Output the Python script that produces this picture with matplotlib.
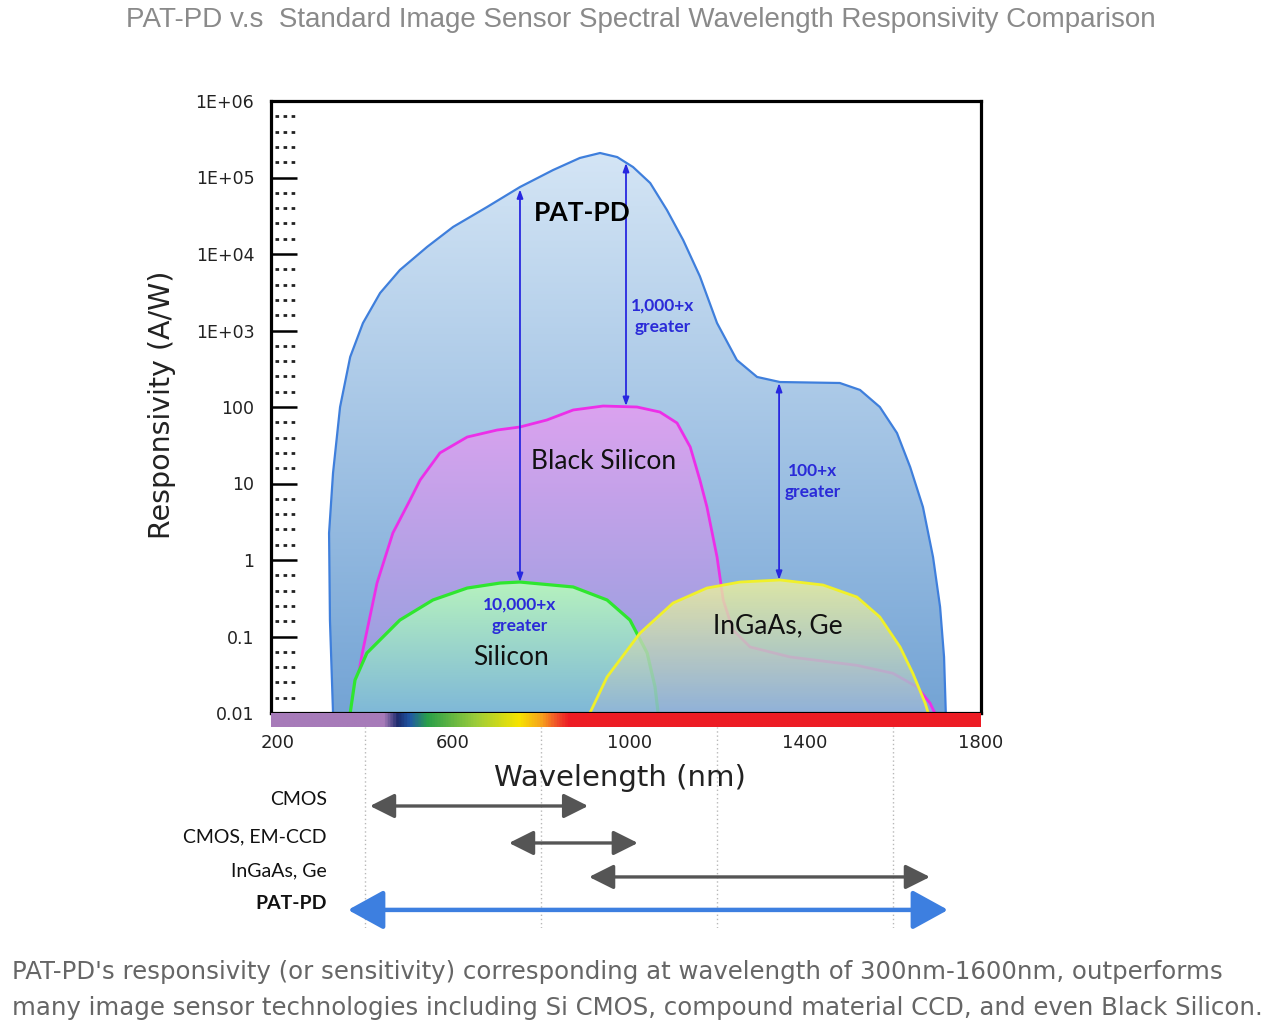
import numpy as np
import matplotlib
matplotlib.use('Agg')
import matplotlib.pyplot as plt
from matplotlib.colors import LinearSegmentedColormap

# 数据 (波长 nm, 响应度 A/W)
pat_wl = [327, 320, 318, 327, 343, 366, 395, 434, 479, 541, 600, 677, 752, 827, 888, 934, 973,
          1009, 1048, 1086, 1123, 1161, 1200, 1245, 1291, 1343, 1479, 1525, 1570, 1609,
          1639, 1668, 1691, 1707, 1716, 1720]
pat_r = [0.01, 0.164, 2.25, 13.7, 100, 451, 1250, 3090, 6180, 12400, 22600, 41100, 75100, 125000,
         180000, 209000, 185000, 137000, 84700, 37600, 15200, 5100, 1250, 411, 247, 212, 206,
         167, 100, 45.7, 16.4, 4.93, 1.09, 0.243, 0.054, 0.01]

bs_wl = [370, 382, 395, 427, 463, 502, 525, 570, 632, 700, 752, 813, 873, 941, 1018, 1070, 1109,
         1139, 1161, 1177, 1200, 1214, 1236, 1275, 1366, 1518, 1600, 1654, 1684, 1695]
bs_r = [0.01, 0.027, 0.0667, 0.50, 2.25, 6.08, 11.1, 25.1, 40.5, 50.0, 54.8, 67.6, 91.4, 103, 100,
        86, 61.8, 30, 11.1, 4.93, 1.09, 0.30, 0.122, 0.073, 0.054, 0.042, 0.033, 0.022, 0.0135, 0.01]

si_wl = [366, 377, 404, 479, 554, 632, 707, 752, 873, 950, 1002, 1041, 1059, 1066]
si_r = [0.01, 0.027, 0.0608, 0.164, 0.30, 0.43, 0.50, 0.515, 0.444, 0.30, 0.164, 0.061, 0.022, 0.01]

ing_wl = [911, 950, 1025, 1100, 1177, 1252, 1343, 1441, 1518, 1570, 1616, 1645, 1673, 1680]
ing_r = [0.01, 0.0296, 0.111, 0.274, 0.43, 0.515, 0.548, 0.471, 0.328, 0.18, 0.073, 0.033, 0.0135, 0.01]

# 倍数箭头 (波长, 上端, 下端)
gain_wl = [752, 993, 1341]
gain_top = [70000, 155000, 206]
gain_bot = [0.515, 103, 0.55]

# 下方波段范围
range_labels = ['CMOS', 'CMOS, EM-CCD', 'InGaAs, Ge', 'PAT-PD']
range_start = [411, 727, 909, 361]
range_end = [907, 1020, 1684, 1725]

ytick_labels = ['0.01', '0.1', '1', '10', '100', '1E+03', '1E+04', '1E+05', '1E+06']
xtick_labels = ['200', '600', '1000', '1400', '1800']

W, H = 1269, 1033
XMIN, XMAX = 186, 1800
fig = plt.figure(figsize=(W / 100, H / 100), dpi=100)
fig.patch.set_facecolor('white')

ax = fig.add_axes([271 / W, 1 - 713 / H, 710 / W, 612 / H])
ax.set_xlim(XMIN, XMAX)
ax.set_ylim(-2, 6)


def grad_fill(x, r, top, bottom, alpha=1.0, z=1):
    y = np.log10(r)
    poly = ax.fill(x, y, facecolor='none', edgecolor='none')[0]
    cmap = LinearSegmentedColormap.from_list('g', [top, bottom])
    grad = np.linspace(0, 1, 256)[:, None]
    im = ax.imshow(grad, extent=[min(x), max(x), -2, y.max()], aspect='auto',
                   cmap=cmap, origin='upper', alpha=alpha, zorder=z, interpolation='bilinear')
    im.set_clip_path(poly)


grad_fill(pat_wl, pat_r, '#d4e5f5', '#74a4d5', z=1)
ax.plot(pat_wl, np.log10(pat_r), color='#3f7fdc', lw=1.6, zorder=2, solid_joinstyle='round')
grad_fill(bs_wl, bs_r, '#dba3ef', '#8c9fdc', z=3)
ax.plot(bs_wl, np.log10(bs_r), color='#ec2fe8', lw=2, zorder=4, solid_joinstyle='round')
grad_fill(si_wl, si_r, '#b6f2be', '#7fb8d8', z=5)
ax.plot(si_wl, np.log10(si_r), color='#2fe62f', lw=2.3, zorder=6, solid_joinstyle='round')
grad_fill(ing_wl, ing_r, '#f0f29a', '#92b6d8', alpha=0.82, z=7)
ax.plot(ing_wl, np.log10(ing_r), color='#f0f02a', lw=2, zorder=8, solid_joinstyle='round')

# 倍数箭头
for w, t, b in zip(gain_wl, gain_top, gain_bot):
    ax.annotate('', xy=(w, np.log10(b)), xytext=(w, np.log10(t)),
                arrowprops=dict(arrowstyle='<|-|>,head_length=0.5,head_width=0.18',
                                color='#2828e0', lw=1.3, shrinkA=0, shrinkB=0,
                                mutation_scale=10), zorder=9)

lato = ['Lato', 'DejaVu Sans']
dv = ['DejaVu Sans']
ax.text(893, 4.54, 'PAT-PD', fontsize=19, fontweight='bold', family=lato,
        ha='center', va='center', zorder=10)
ax.text(941, 1.29, 'Black Silicon', fontsize=19, family=lato, color='#111111',
        ha='center', va='center', zorder=10)
ax.text(732, -1.28, 'Silicon', fontsize=19, family=lato, color='#111111',
        ha='center', va='center', zorder=10)
ax.text(1339, -0.86, 'InGaAs, Ge', fontsize=19, family=lato, color='#111111',
        ha='center', va='center', zorder=10)
for (tx, ty, s) in [(1077, 3.19, '1,000+x\ngreater'), (1418, 1.03, '100+x\ngreater'),
                    (752, -0.72, '10,000+x\ngreater')]:
    ax.text(tx, ty, s, fontsize=12.5, fontweight='bold', family=lato, color='#2a2ad8',
            ha='center', va='center', linespacing=1.4, zorder=10)

# 轴线和刻度
for sp in ax.spines.values():
    sp.set_linewidth(2.3)
    sp.set_zorder(20)
ax.set_xticks(np.arange(400, 1700, 200))
ax.tick_params(axis='x', direction='in', length=9.5, width=1.8, labelbottom=False)
ax.set_yticks(np.arange(-2, 7))
ax.set_yticklabels(ytick_labels, family=dv, fontsize=12.5, color='#222222')
ax.tick_params(axis='y', direction='in', length=19, width=1.8, pad=12)
ytr = ax.get_yaxis_transform()
for k in range(-2, 6):
    for f in (0.2, 0.4, 0.6, 0.8):
        ax.plot([0.006, 0.036], [k + f, k + f], transform=ytr, color='#222222',
                lw=2, linestyle=(0, (1.3, 1.6)), zorder=20, clip_on=False)

# 光谱条
ax_sp = fig.add_axes([271 / W, 1 - 727 / H, 710 / W, 14 / H])
stops = [(XMIN, '#a77bb9'), (440, '#a77bb9'), (472, '#1b2a6c'), (500, '#2058a6'),
         (540, '#2aa04a'), (650, '#9ccc3a'), (748, '#f6e400'), (800, '#f7a21c'),
         (835, '#f0502a'), (862, '#ed1c24'), (XMAX, '#ed1c24')]
sp_cmap = LinearSegmentedColormap.from_list(
    'spec', [((w - XMIN) / (XMAX - XMIN), c) for w, c in stops])
ax_sp.imshow(np.linspace(0, 1, 1600)[None, :], extent=[XMIN, XMAX, 0, 1], aspect='auto',
             cmap=sp_cmap, interpolation='bilinear')
ax_sp.set_xlim(XMIN, XMAX)
ax_sp.set_ylim(0, 1)
for sp in ax_sp.spines.values():
    sp.set_visible(False)
ax_sp.set_yticks([])
ax_sp.set_xticks([int(t) for t in xtick_labels])
ax_sp.set_xticklabels(xtick_labels, family=dv, fontsize=13, color='#222222')
ax_sp.tick_params(axis='x', length=0, pad=5)

# 下方范围箭头
ax_lo = fig.add_axes([271 / W, 1 - 928 / H, 710 / W, 201 / H])
ax_lo.set_xlim(XMIN, XMAX)
ax_lo.set_ylim(0, 1)
ax_lo.patch.set_alpha(0)
ax_lo.axis('off')
ax_lo.vlines([400, 800, 1200, 1600], 0, 1, colors='#b8b8b8', linestyles=(0, (1, 2)), lw=1)
row_y = [0.607, 0.423, 0.254, 0.09]
for i, (lab, s, e) in enumerate(zip(range_labels, range_start, range_end)):
    y = row_y[i]
    if lab == 'PAT-PD':
        col, lw, ms, st = '#3d7fe0', 3.2, 22, '<|-|>,head_length=1.0,head_width=0.55'
        fw = 'bold'
    else:
        col, lw, ms, st = '#555555', 2.4, 15, '<|-|>,head_length=1.0,head_width=0.5'
        fw = 'normal'
    ax_lo.annotate('', xy=(e, y), xytext=(s, y),
                   arrowprops=dict(arrowstyle=st, color=col, lw=lw, shrinkA=0, shrinkB=0,
                                   mutation_scale=ms))
    ax_lo.text(313, y + 0.03, lab, ha='right', va='center', fontsize=14, fontweight=fw,
               family=lato, color='#111111')

# 标题、轴标签和说明
fig.text(162 / W, 1 - 405 / H, 'Responsivity (A/W)', rotation=90, ha='center', va='center',
         fontsize=20.5, family=dv, color='#222222')
fig.text(620 / W, 1 - 778 / H, 'Wavelength (nm)', ha='center', va='center',
         fontsize=21, family=dv, color='#222222')
fig.text(641 / W, 1 - 20 / H, 'PAT-PD v.s  Standard Image Sensor Spectral Wavelength Responsivity Comparison',
         ha='center', va='center', fontsize=20, family=['Liberation Sans', 'DejaVu Sans'], color='#8a8a8a')
fig.text(12 / W, 1 - 972 / H,
         "PAT-PD's responsivity (or sensitivity) corresponding at wavelength of 300nm-1600nm, outperforms",
         ha='left', va='center', fontsize=17.6, family=dv, color='#666666')
fig.text(12 / W, 1 - 1008 / H,
         'many image sensor technologies including Si CMOS, compound material CCD, and even Black Silicon.',
         ha='left', va='center', fontsize=17.6, family=dv, color='#666666')

fig.savefig('out.png', dpi=100, facecolor='white')
